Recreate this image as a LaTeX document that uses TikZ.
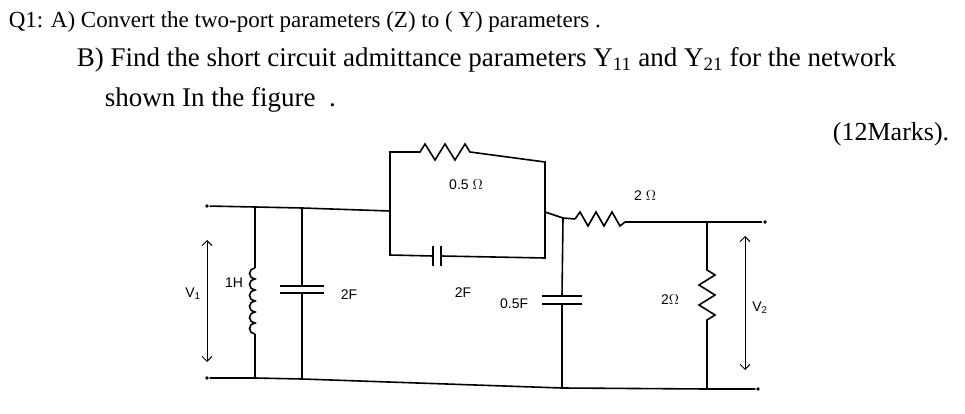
\documentclass[tikz,border=0pt]{standalone}
\usepackage{fontspec}
\setmainfont{Liberation Serif}
\newfontfamily\lab{Liberation Sans}
\usetikzlibrary{arrows.meta}
\begin{document}
\begin{tikzpicture}[x=1pt,y=-1pt,line width=1.6pt,
  hd/.style={anchor=west,inner sep=0pt},
  lb/.style={inner sep=0pt,font=\lab\fontsize{14}{16}\selectfont},
  term/.style={circle,fill,inner sep=1.3pt},
  varr/.style={line width=1pt,{Straight Barb[length=5pt]}-{Straight Barb[length=5pt]}}]
\useasboundingbox (0,0) rectangle (965,414);
% heading
\node[hd,font=\fontsize{23}{26}\selectfont] (q1) at (8,22) {Q1: A) Convert the two-port parameters (Z) to ( Y) parameters .};
\node[hd,font=\fontsize{27}{30}\selectfont] (qb) at (76,60) {B) Find the short circuit admittance parameters Y\textsubscript{11} and Y\textsubscript{21} for the network};
\node[hd,font=\fontsize{27}{30}\selectfont] (qc) at (104,100) {shown In the figure \ .};
\node[hd,anchor=east,font=\fontsize{26}{30}\selectfont] (qm) at (950,134) {(12Marks).};
% coordinates
\node[term] (t1) at (207,206) {};
\node[term] (t2) at (207,378) {};
\node[term] (t3) at (765,222) {};
\node[term] (t4) at (758,389) {};
\coordinate (aL) at (255,207); \coordinate (aC) at (302,208);
\coordinate (bL) at (255,378); \coordinate (bC) at (302,379);
\coordinate (pL) at (390,211); \coordinate (pR) at (545,212);
\coordinate (n2) at (563,218); \coordinate (n3) at (707,222);
\coordinate (b2) at (562,388); \coordinate (b3) at (707,389);
% wires
\draw (t1) -- (aL) -- (aC) -- (pL);
\draw (pR) -- (n2) -- (575,219);
\draw (625,222) -- (n3) -- (t3);
\draw (t2) -- (bL) -- (bC) -- (b2) -- (b3) -- (t4);
% parallel box
\draw (pL) -- (390,152) -- (420,152) -- ++(5,-8) -- ++(10,16) -- ++(10,-16) -- ++(10,16) -- ++(10,-16) -- ++(5,8) -- (545,162) -- (pR);
\draw (pL) -- (390,255) -- (433,256) (441,256) -- (545,258) -- (pR);
\draw (433,246) -- (433,266) (441,246) -- (441,266);
\node[lb] (r05) at (466,185) {0.5 $\Omega$};
\node[lb] (c2b) at (463,293) {2F};
% inductor
\draw (aL) -- (255,268);
\draw (255,268) arc (270:90:5.5) arc (270:90:5.5) arc (270:90:5.5) arc (270:90:5.5) arc (270:90:5.5) arc (270:90:5.5);
\draw (255,334) -- (bL);
\node[lb] (l1) at (234,283) {1H};
% capacitor 2F
\draw (aC) -- (302,286) (302,293) -- (bC);
\draw (280,286) -- (324,286) (280,293) -- (324,293);
\node[lb] (c2) at (349,295) {2F};
% series 2 ohm
\draw (575,219) -- ++(5,-7) -- ++(8,14) -- ++(8,-14) -- ++(8,14) -- ++(8,-14) -- ++(8,14) -- ++(5,-4) -- (625,222);
\node[lb] (r2a) at (645,196) {2 $\Omega$};
% 0.5F cap
\draw (n2) -- (562,296) (562,304) -- (b2);
\draw (542,296) -- (582,296) (542,304) -- (582,304);
\node[lb,anchor=east] (c05t) at (529,304) {0.5F};
% shunt 2 ohm
\draw (n3) -- (707,270) -- ++(8,5) -- ++(-16,10) -- ++(16,10) -- ++(-16,10) -- ++(16,10) -- ++(-8,5) -- (707,330) -- (b3);
\node[lb] (r2b) at (670,300) {2$\Omega$};
% voltage arrows
\draw[varr] (207,240) -- (207,362);
\node[lb] (v1) at (193,294) {V\textsubscript{1}};
\draw[varr] (745,236) -- (745,370);
\node[lb] (v2) at (760,308) {V\textsubscript{2}};
\end{tikzpicture}
\end{document}
